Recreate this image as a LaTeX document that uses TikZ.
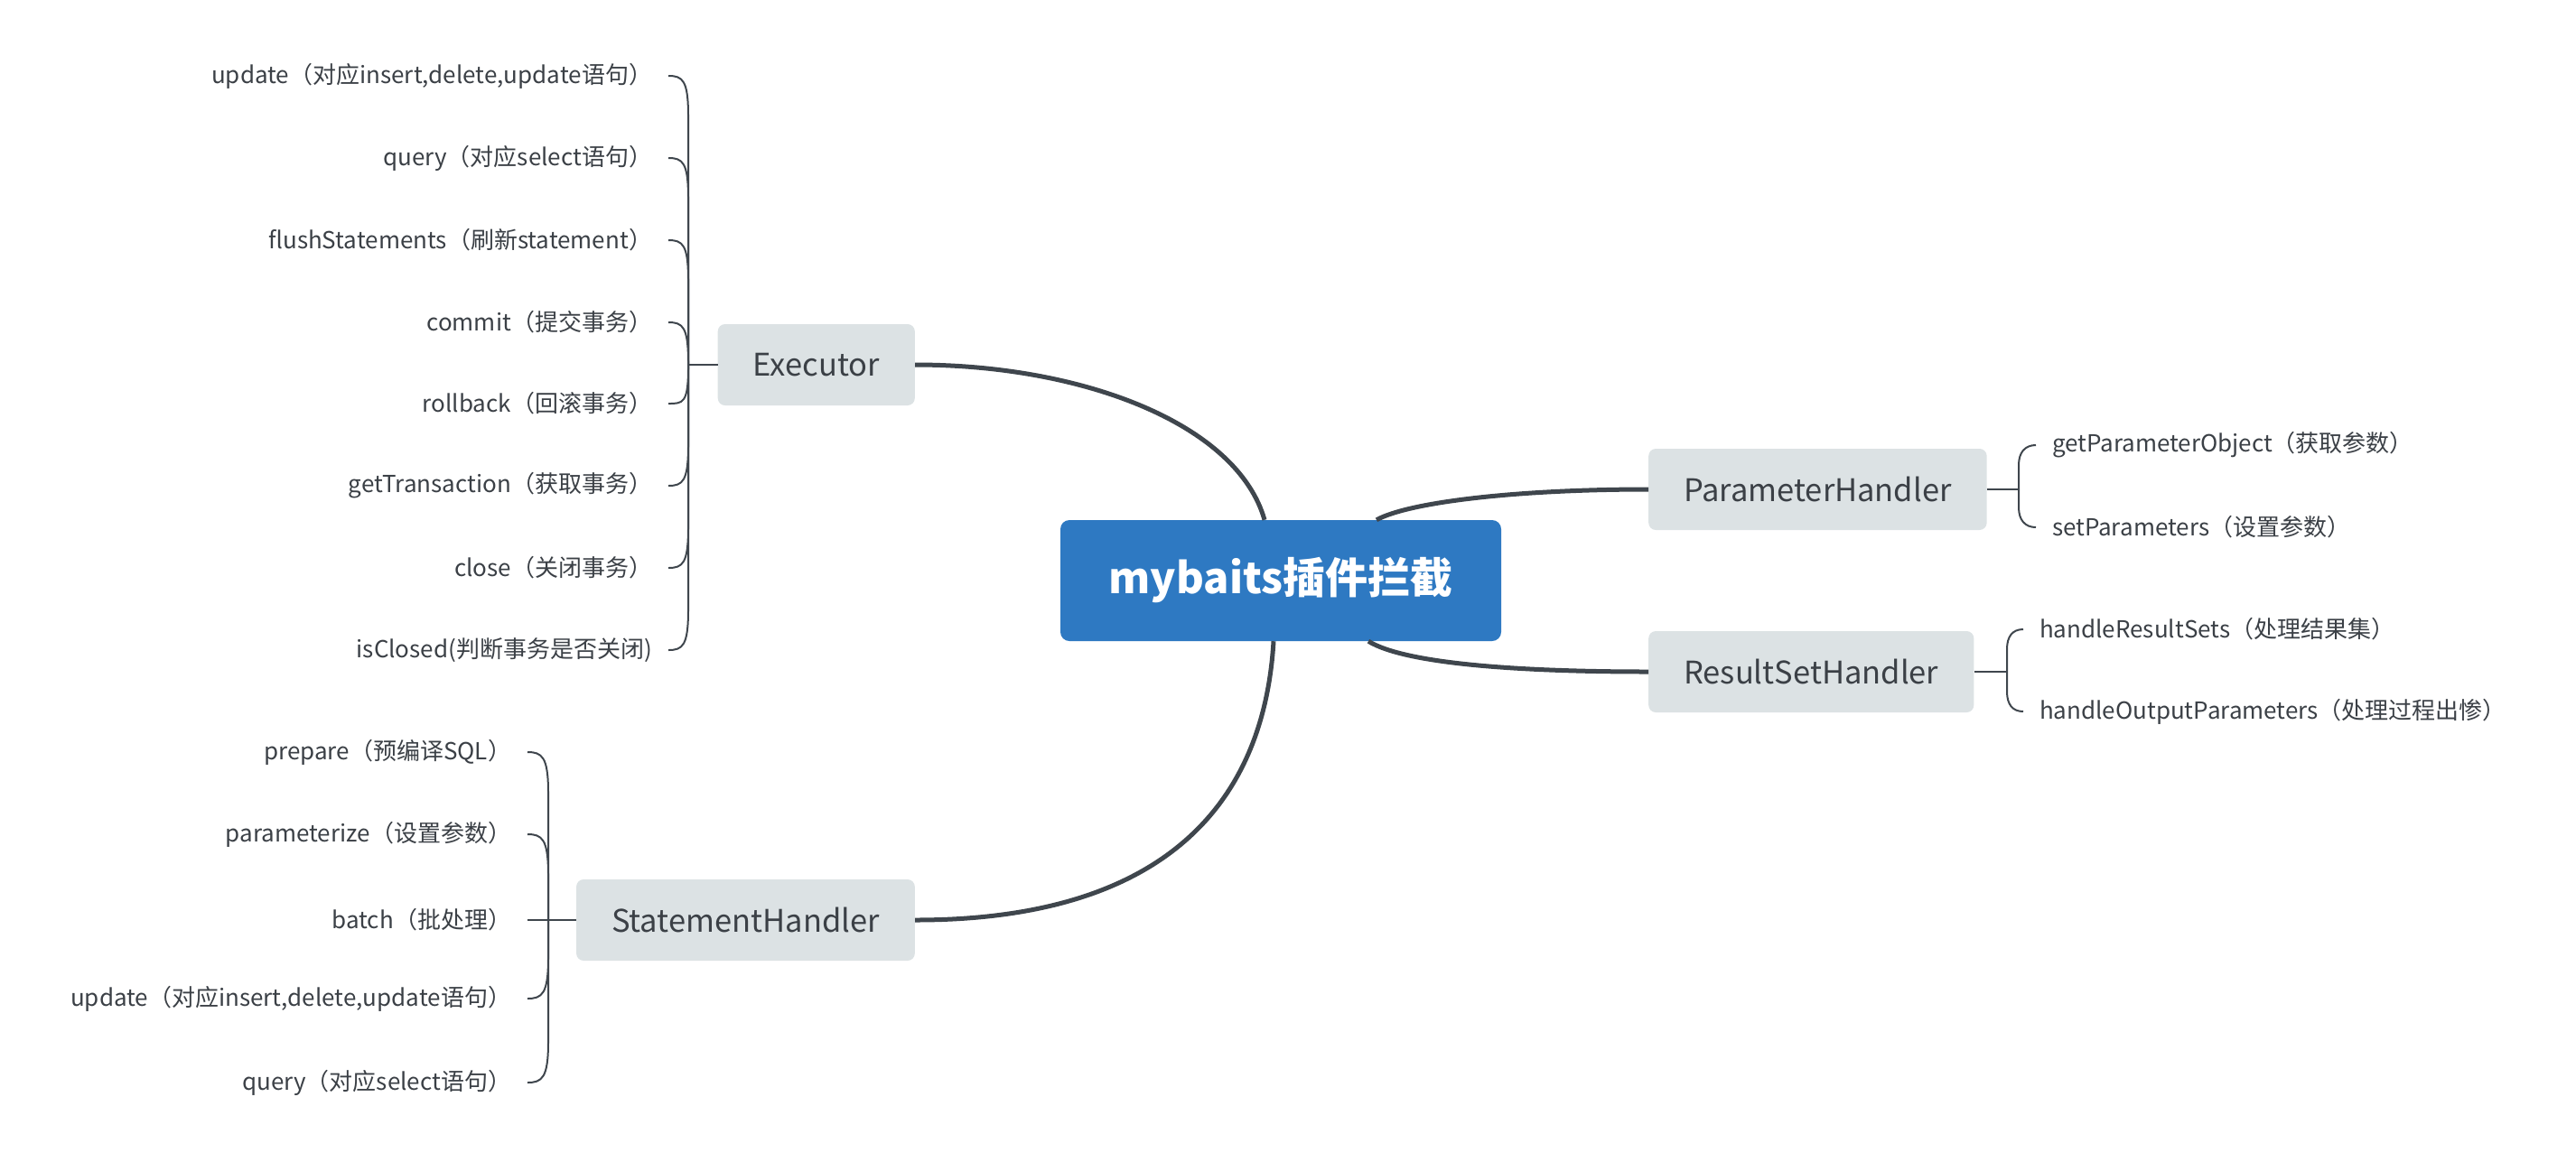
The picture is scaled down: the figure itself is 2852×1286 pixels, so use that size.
\documentclass[tikz,border=0pt]{standalone}
\usepackage{fontspec}
\setmainfont{Noto Sans CJK SC}
\usetikzlibrary{positioning,calc}
\definecolor{rootblue}{HTML}{2E79C2}
\definecolor{topicgray}{HTML}{DCE2E4}
\definecolor{linegray}{HTML}{3F464D}
\definecolor{textgray}{HTML}{3B4046}

\begin{document}
\begin{tikzpicture}[
    x=1pt, y=1pt,
    root/.style={rectangle, fill=rootblue, rounded corners=10pt, text=white,
                 minimum width=488pt, minimum height=134pt,
                 font=\fontsize{47}{50}\selectfont\bfseries},
    topic/.style={rectangle, fill=topicgray, rounded corners=8pt, text=textgray,
                  inner xsep=39pt, minimum height=90pt, font=\fontsize{34.5}{40}\selectfont},
    leaf/.style={inner sep=0pt, outer xsep=18pt, text=textgray,
                 font=\fontsize{26}{30}\selectfont},
    trunk/.style={draw=linegray, line width=5pt},
    twig/.style={draw=linegray, line width=2pt},
  ]
    \useasboundingbox (0,0) rectangle (2852,-1286);

    \node[root] (root) at (1418,-643) {mybaits插件拦截};
    \node[topic, anchor=east] (exec) at (1013,-404) {Executor};
    \node[topic, anchor=east] (stmt) at (1013,-1019) {StatementHandler};
    \node[topic, anchor=west] (param) at (1825,-542) {ParameterHandler};
    \node[topic, anchor=west] (result) at (1825,-744) {ResultSetHandler};

    % Executor
    \node[leaf, anchor=east] (upd) at (740,-84) {update（对应insert,delete,update语句）};
    \node[leaf, anchor=east] (qry) at (740,-175) {query（对应select语句）};
    \node[leaf, anchor=east] (flush) at (740,-266) {flushStatements（刷新statement）};
    \node[leaf, anchor=east] (commit) at (740,-357) {commit（提交事务）};
    \node[leaf, anchor=east] (rollback) at (740,-447) {rollback（回滚事务）};
    \node[leaf, anchor=east] (gettx) at (740,-538) {getTransaction（获取事务）};
    \node[leaf, anchor=east] (close) at (740,-629) {close（关闭事务）};
    \node[leaf, anchor=east] (isclosed) at (740,-720) {isClosed(判断事务是否关闭)};

    % StatementHandler
    \node[leaf, anchor=east] (prep) at (584,-833) {prepare（预编译SQL）};
    \node[leaf, anchor=east] (paramz) at (584,-924) {parameterize（设置参数）};
    \node[leaf, anchor=east] (batch) at (584,-1019) {batch（批处理）};
    \node[leaf, anchor=east] (supd) at (584,-1106) {update（对应insert,delete,update语句）};
    \node[leaf, anchor=east] (sqry) at (584,-1199) {query（对应select语句）};

    % ParameterHandler / ResultSetHandler
    \node[leaf, anchor=west] (getpo) at (2254,-493) {getParameterObject（获取参数）};
    \node[leaf, anchor=west] (setp) at (2254,-584) {setParameters（设置参数）};
    \node[leaf, anchor=west] (hrs) at (2240,-697) {handleResultSets（处理结果集）};
    \node[leaf, anchor=west] (hop) at (2240,-788) {handleOutputParameters（处理过程出惨）};

    % main branches
    \draw[trunk] ([xshift=-18pt]root.north) .. controls (1370,-470) and (1200,-404) .. (exec.east);
    \draw[trunk] ([xshift=-8pt]root.south) .. controls (1400,-880) and (1300,-1019) .. (stmt.east);
    \draw[trunk] ([xshift=106pt]root.north) .. controls (1560,-556) and (1680,-542) .. (param.west);
    \draw[trunk] ([xshift=97pt]root.south) .. controls (1555,-735) and (1680,-744) .. (result.west);

    % brackets
    \coordinate (exsp) at (762,-404);
    \coordinate (stsp) at (607,-1019);
    \coordinate (pmsp) at (2235,-542);
    \coordinate (rssp) at (2222,-744);
    \draw[twig] (exec.west) -- (exsp);
    \draw[twig] (stmt.west) -- (stsp);
    \draw[twig] (param.east) -- (pmsp);
    \draw[twig] (result.east) -- (rssp);

    \draw[twig] (upd.east) .. controls +(16,0) and +(0,40) .. ($(upd.east -| exsp)+(0,-45)$) -- (exsp);
    \draw[twig] (qry.east) .. controls +(16,0) and +(0,40) .. ($(qry.east -| exsp)+(0,-45)$) -- (exsp);
    \draw[twig] (flush.east) .. controls +(16,0) and +(0,40) .. ($(flush.east -| exsp)+(0,-45)$) -- (exsp);
    \draw[twig] (commit.east) .. controls +(16,0) and +(0,40) .. ($(commit.east -| exsp)+(0,-45)$) -- (exsp);
    \draw[twig] (rollback.east) .. controls +(16,0) and +(0,-40) .. ($(rollback.east -| exsp)+(0,40)$) -- (exsp);
    \draw[twig] (gettx.east) .. controls +(16,0) and +(0,-40) .. ($(gettx.east -| exsp)+(0,45)$) -- (exsp);
    \draw[twig] (close.east) .. controls +(16,0) and +(0,-40) .. ($(close.east -| exsp)+(0,45)$) -- (exsp);
    \draw[twig] (isclosed.east) .. controls +(16,0) and +(0,-40) .. ($(isclosed.east -| exsp)+(0,45)$) -- (exsp);

    \draw[twig] (prep.east) .. controls +(16,0) and +(0,40) .. ($(prep.east -| stsp)+(0,-45)$) -- (stsp);
    \draw[twig] (paramz.east) .. controls +(16,0) and +(0,40) .. ($(paramz.east -| stsp)+(0,-45)$) -- (stsp);
    \draw[twig] (batch.east) -- (stsp);
    \draw[twig] (supd.east) .. controls +(16,0) and +(0,-40) .. ($(supd.east -| stsp)+(0,45)$) -- (stsp);
    \draw[twig] (sqry.east) .. controls +(16,0) and +(0,-40) .. ($(sqry.east -| stsp)+(0,45)$) -- (stsp);

    \draw[twig] (getpo.west) .. controls +(-12,0) and +(0,14) .. ($(getpo.west -| pmsp)+(0,-22)$) -- (pmsp);
    \draw[twig] (setp.west) .. controls +(-12,0) and +(0,-14) .. ($(setp.west -| pmsp)+(0,22)$) -- (pmsp);
    \draw[twig] (hrs.west) .. controls +(-12,0) and +(0,14) .. ($(hrs.west -| rssp)+(0,-22)$) -- (rssp);
    \draw[twig] (hop.west) .. controls +(-12,0) and +(0,-14) .. ($(hop.west -| rssp)+(0,22)$) -- (rssp);
  \end{tikzpicture}
\end{document}
